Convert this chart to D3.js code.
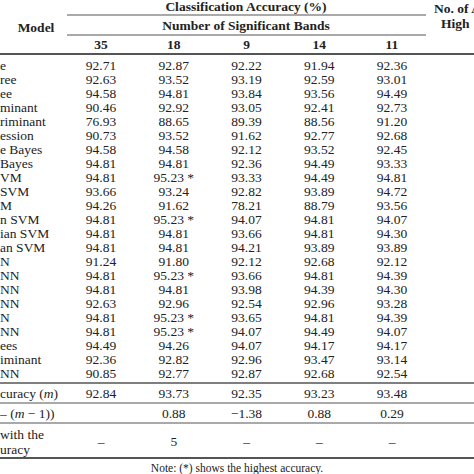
<!DOCTYPE html><html><head><meta charset="utf-8"><script src="https://cdn.jsdelivr.net/npm/d3@7"></script>
<style>body{margin:0;background:#fff}svg{display:block}text{font-family:"Liberation Serif",serif;fill:#222}</style></head><body><script>
const bands=["35","18","9","14","11"];
const models=["e","ree","ee","minant","riminant","ession","e Bayes","Bayes","VM","SVM","M","n SVM","ian SVM","an SVM","N","NN","NN","NN","N","NN","ees","iminant","NN"];
const b35=["92.71","92.63","94.58","90.46","76.93","90.73","94.58","94.81","94.81","93.66","94.26","94.81","94.81","94.81","91.24","94.81","94.81","92.63","94.81","94.81","94.49","92.36","90.85"];
const b18=["92.87","93.52","94.81","92.92","88.65","93.52","94.58","94.81","95.23 *","93.24","91.62","95.23 *","94.81","94.81","91.80","95.23 *","94.81","92.96","95.23 *","95.23 *","94.26","92.82","92.77"];
const b9=["92.22","93.19","93.84","93.05","89.39","91.62","92.12","92.36","93.33","92.82","78.21","94.07","93.66","94.21","92.12","93.66","93.98","92.54","93.65","94.07","94.07","92.96","92.87"];
const b14=["91.94","92.59","93.56","92.41","88.56","92.77","93.52","94.49","94.49","93.89","88.79","94.81","94.81","93.89","92.68","94.81","94.39","92.96","94.81","94.49","94.17","93.47","92.68"];
const b11=["92.36","93.01","94.49","92.73","91.20","92.68","92.45","93.33","94.81","94.72","93.56","94.07","94.30","93.89","92.12","94.39","94.30","93.28","94.39","94.07","94.17","93.14","92.54"];
const meanAcc=["92.84","93.73","92.35","93.23","93.48"];
const diff=["","0.88","\u22121.38","0.88","0.29"];
const countHigh=["\u2013","5","\u2013","\u2013","\u2013"];
const cols=[b35,b18,b9,b14,b11];
const W=474,H=474;
const svg=d3.select("body").append("svg").attr("width",W).attr("height",H);
const x=d3.scalePoint().domain(bands).range([101,392]);
const y=d3.scaleLinear().domain([0,22]).range([65,373]);
const fs=13.5;
function t(xx,yy,s,opt={}){return svg.append("text").attr("x",xx).attr("y",yy).attr("dy","0.35em").attr("font-size",opt.fs||fs).attr("text-anchor",opt.a||"middle").attr("font-weight",opt.b?"bold":null).text(s);}
function ln(x1,x2,yy,w){svg.append("line").attr("x1",x1).attr("x2",x2).attr("y1",yy).attr("y2",yy).attr("stroke","#555").attr("stroke-width",w||1);}
t(246,6,"Classification Accuracy (%)",{b:1});
ln(67,426,15,1.2);
t(246,25,"Number of Significant Bands",{b:1});
ln(67,426,35,1.2);
t(36,27,"Model",{b:1});
t(434,8,"No. of A",{b:1,a:"start"});
t(441,23,"High",{b:1,a:"start"});
bands.forEach(b=>t(x(b),44,b,{b:1}));
ln(0,W,54,1.8);
models.forEach((m,i)=>t(0,y(i),m,{a:"start"}));
cols.forEach((c,j)=>c.forEach((v,i)=>t(x(bands[j]),y(i),v)));
ln(0,W,383,1.6);
t(0,393,"curacy (",{a:"start"}).append("tspan").attr("font-style","italic").text("m").select(function(){return this.parentNode;}).append("tspan").text(")");
meanAcc.forEach((v,j)=>t(x(bands[j]),393,v));
ln(0,W,403,1.2);
t(0,413,"\u2013 (",{a:"start"}).append("tspan").attr("font-style","italic").text("m").select(function(){return this.parentNode;}).append("tspan").text(" \u2212 1))");
diff.forEach((v,j)=>t(x(bands[j]),413,v));
ln(0,W,423,1.2);
t(0,434,"with the",{a:"start"});
t(0,449,"uracy",{a:"start"});
countHigh.forEach((v,j)=>t(x(bands[j]),441,v));
ln(0,W,458,2);
t(237,468,"Note: (*) shows the highest accuracy.",{fs:11.5});
</script></body></html>
